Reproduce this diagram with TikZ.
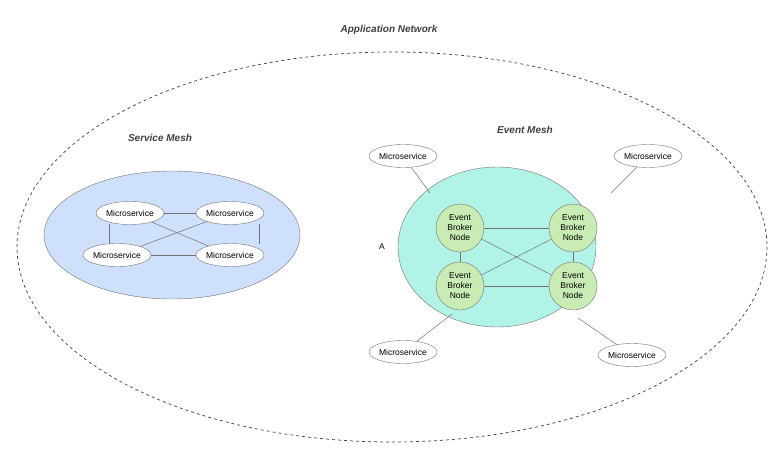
\documentclass[tikz,border=0pt]{standalone}
\usepackage{fontspec}
\setmainfont{Liberation Sans}
\usetikzlibrary{shapes.geometric}
\definecolor{lg}{gray}{0.45}
\definecolor{smfill}{RGB}{206,224,252}
\definecolor{emfill}{RGB}{178,243,232}
\definecolor{brfill}{RGB}{200,236,180}
\begin{document}
\begin{tikzpicture}[x=1pt,y=-1pt,
  ms/.style={ellipse,draw=lg,fill=white,minimum width=68pt,minimum height=23pt,inner sep=0pt,font=\fontsize{8.5}{9}\selectfont},
  br/.style={circle,draw=lg,fill=brfill,minimum size=48pt,inner sep=0pt,align=center,font=\fontsize{8.5}{10}\selectfont},
  ln/.style={draw=lg,line width=0.5pt},
  ttl/.style={font=\fontsize{10}{12}\selectfont\bfseries\itshape,text=black!75}]
\useasboundingbox (0,0) rectangle (768,460);
\draw[dashed,black!75,line width=0.7pt] (392,247) ellipse [x radius=375,y radius=195];
\node[ttl] (t1) at (389,30) {Application Network};
\node[ttl] (t2) at (160,138) {Service Mesh};
\node[ttl] (t3) at (525,130) {Event Mesh};
\draw[lg,fill=smfill] (172,235) ellipse [x radius=128,y radius=64];
\coordinate (v1) at (109,224);
\coordinate (v2) at (109,244);
\coordinate (v3) at (259,224);
\coordinate (v4) at (259,244);
\draw[ln] (v1) -- (v2);
\draw[ln] (v3) -- (v4);
\node[ms] (s1) at (130,213) {Microservice};
\node[ms] (s2) at (230,213) {Microservice};
\node[ms] (s3) at (117,255) {Microservice};
\node[ms] (s4) at (230,255) {Microservice};
\draw[ln] (s1) -- (s2);
\draw[ln] (s3) -- (s4);
\draw[ln] (s1) -- (s4);
\draw[ln] (s2) -- (s3);
\draw[lg,fill=emfill] (497,247) ellipse [x radius=99,y radius=80];
\coordinate (e1) at (430,193);
\coordinate (e2) at (611,193);
\coordinate (e3) at (452,314);
\coordinate (e4) at (578,318);
\node[ms] (m1) at (403,156) {Microservice};
\node[ms] (m2) at (648,156) {Microservice};
\node[ms] (m3) at (403,352) {Microservice};
\node[ms] (m4) at (632,355) {Microservice};
\draw[ln] (m1) -- (e1);
\draw[ln] (m2) -- (e2);
\draw[ln] (m3) -- (e3);
\draw[ln] (m4) -- (e4);
\node[br] (b1) at (460,228) {Event\\Broker\\Node};
\node[br] (b2) at (573,228) {Event\\Broker\\Node};
\node[br] (b3) at (460,286) {Event\\Broker\\Node};
\node[br] (b4) at (573,286) {Event\\Broker\\Node};
\draw[ln] (b1) -- (b2);
\draw[ln] (b3) -- (b4);
\draw[ln] (b1) -- (b3);
\draw[ln] (b2) -- (b4);
\draw[ln] (b1) -- (b4);
\draw[ln] (b2) -- (b3);
\node[font=\fontsize{8.5}{9}\selectfont] (a) at (382,247) {A};
\end{tikzpicture}
\end{document}
